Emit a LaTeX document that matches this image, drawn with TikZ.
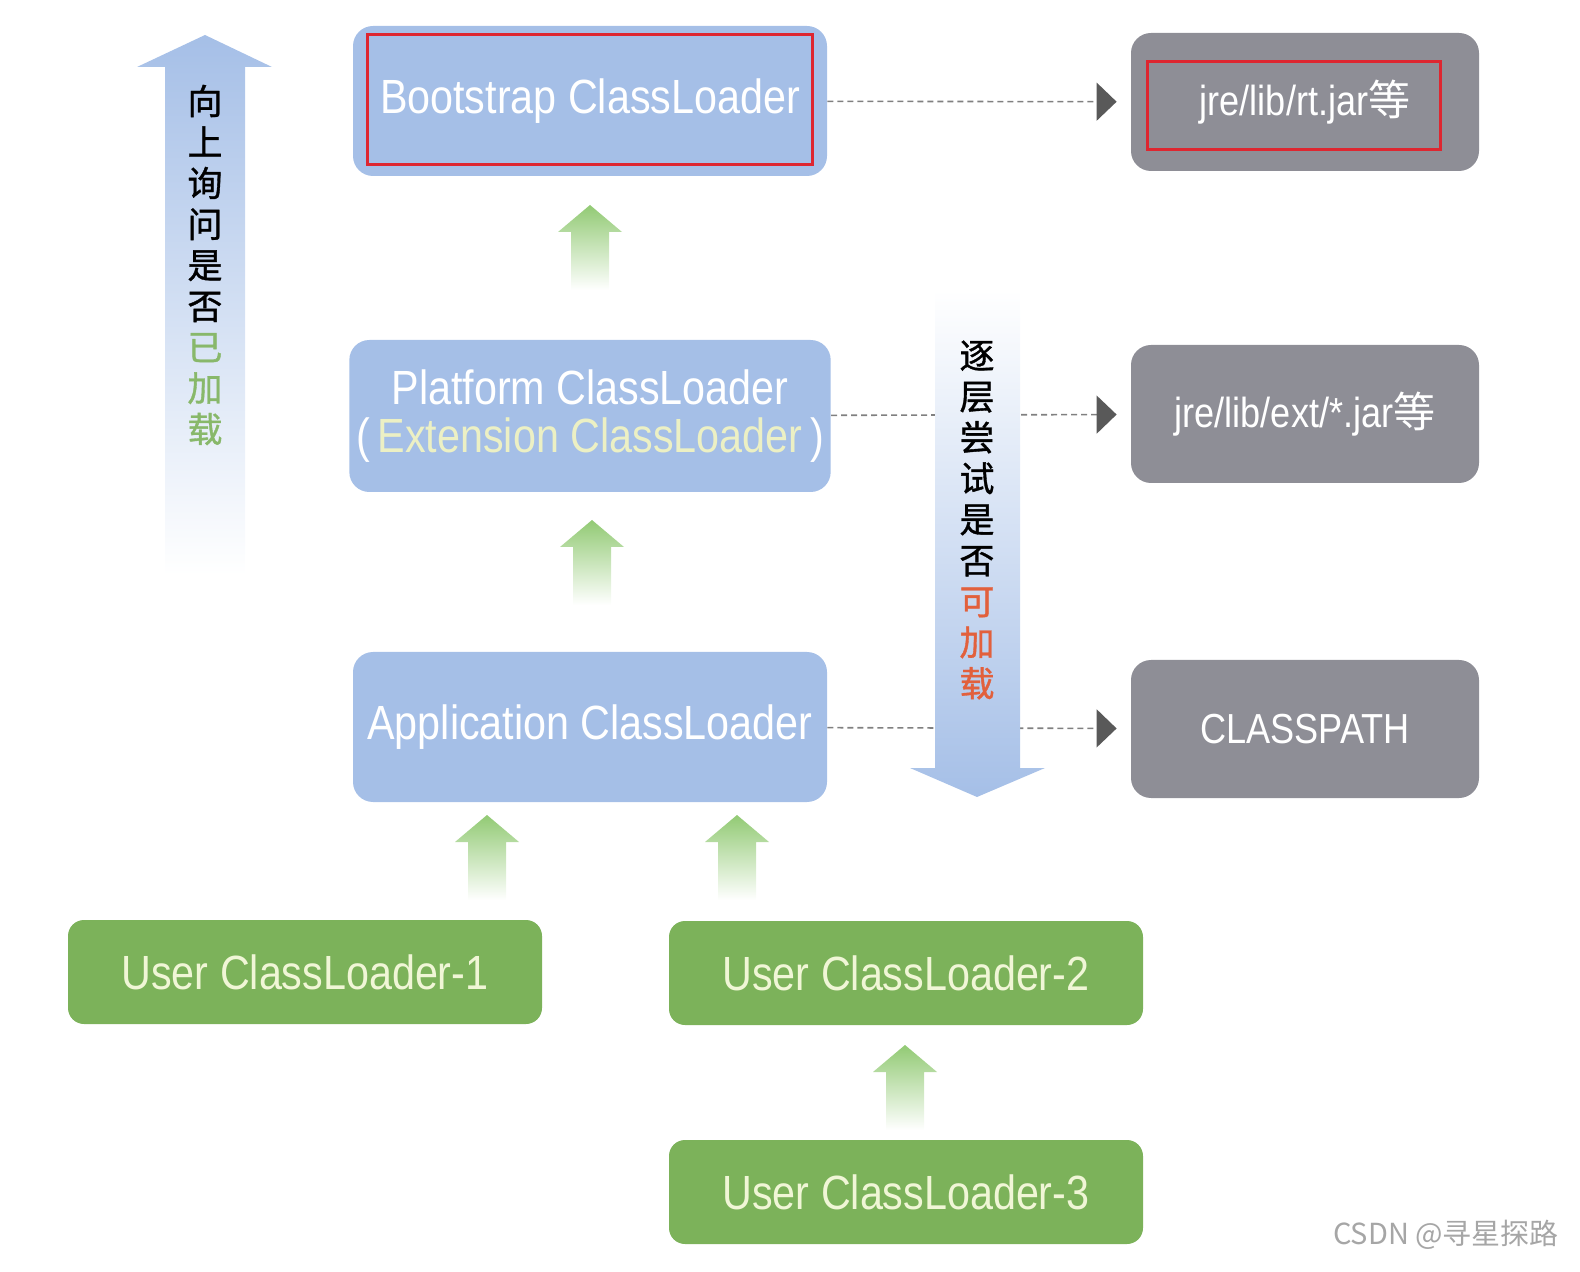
\documentclass[tikz,border=0pt]{standalone}
\usepackage{fontspec}
\setmainfont{Liberation Sans}[FakeStretch=0.86]
\newfontfamily\cjk{Noto Sans CJK SC}
\newfontfamily\cjkheavy{Noto Sans CJK SC}[FakeBold=1]
\usetikzlibrary{arrows.meta}

\definecolor{loaderblue}{RGB}{165,191,231}
\definecolor{pathgray}{RGB}{142,142,150}
\definecolor{usergreen}{RGB}{124,178,90}
\definecolor{usertext}{RGB}{240,246,214}
\definecolor{exttext}{RGB}{236,240,196}
\definecolor{arrowgreen}{RGB}{146,202,116}
\definecolor{markred}{RGB}{222,38,48}
\definecolor{askgreen}{RGB}{136,184,106}
\definecolor{tryred}{RGB}{226,96,60}

\tikzset{
  loader/.style={fill=loaderblue, rounded corners=10pt, text=white, minimum width=237pt,
    minimum height=75pt, align=center, font=\fontsize{24}{24}\selectfont},
  jarbox/.style={fill=pathgray, rounded corners=10pt, text=white, minimum width=174pt,
    minimum height=69pt, font=\fontsize{21}{24}\selectfont},
  userbox/.style={fill=usergreen, rounded corners=8pt, text=usertext, minimum width=237pt,
    minimum height=52pt, font=\fontsize{24}{24}\selectfont},
  searchline/.style={densely dashed, gray, line width=0.8pt, shorten >=7pt,
    -{Triangle[length=10pt,width=19pt,color=black!65]}},
  vtext/.style={inner sep=0pt, align=center, font=\cjkheavy\fontsize{17.5}{20.5}\selectfont},
}

\begin{document}
\begin{tikzpicture}[x=0.5pt, y=-0.5pt]
  \useasboundingbox (0,0) rectangle (1580,1272);

  % Class loaders
  \node[loader] (boot) at (590,101) {Bootstrap ClassLoader};
  \node[loader, minimum height=76pt] (plat) at (590,416)
    {Platform ClassLoader\\(\,{\color{exttext}Extension ClassLoader}\,)};
  \node[loader] (app) at (590,727) {Application ClassLoader};

  % Search paths
  \node[jarbox] (rtjar) at (1305,102) {jre/lib/rt.jar{\cjk 等}};
  \node[jarbox] (extjar) at (1305,414) {jre/lib/ext/*.jar{\cjk 等}};
  \node[jarbox] (cpath) at (1305,729) {CLASSPATH};

  % User class loaders
  \node[userbox] (user1) at (305,972) {User ClassLoader-1};
  \node[userbox] (user2) at (906,973) {User ClassLoader-2};
  \node[userbox] (user3) at (906,1192) {User ClassLoader-3};

  % Red marks
  \draw[markred, line width=1.5pt] (367,35) rectangle (812,165);
  \draw[markred, line width=1.5pt] (1147,62) rectangle (1440,150);

  % Dashed links to the paths
  \draw[searchline] (boot) -- (rtjar);
  \draw[searchline] (plat) -- (extjar);
  \draw[searchline] (app) -- (cpath);

  % Green parent arrows
  \foreach \gx/\gy in {590/205, 592/520, 487/815, 737/815, 905/1045} {
    \shade[top color=arrowgreen, bottom color=white] (\gx,\gy) -- ++(32,27) -- ++(-13,0)
      -- ++(0,58) -- ++(-38,0) -- ++(0,-58) -- ++(-13,0) -- cycle;
  }

  % Big arrows
  \shade[top color=loaderblue, bottom color=white] (205,35) -- (272,67) -- (245,67)
    -- (245,575) -- (165,575) -- (165,67) -- (137,67) -- cycle;
  \shade[top color=white, bottom color=loaderblue] (935,290) -- (1020,290) -- (1020,768)
    -- (1045,768) -- (977,797) -- (910,768) -- (935,768) -- cycle;

  \node[vtext] (askup) at (205,265)
    {向\\上\\询\\问\\是\\否\\{\color{askgreen}已}\\{\color{askgreen}加}\\{\color{askgreen}载}};
  \node[vtext] (trydown) at (977,520)
    {逐\\层\\尝\\试\\是\\否\\{\color{tryred}可}\\{\color{tryred}加}\\{\color{tryred}载}};

  \node[anchor=east, text=black!35, font=\cjk\fontsize{14.5}{16}\selectfont] (mark)
    at (1566,1235) {CSDN @寻星探路};
\end{tikzpicture}
\end{document}
